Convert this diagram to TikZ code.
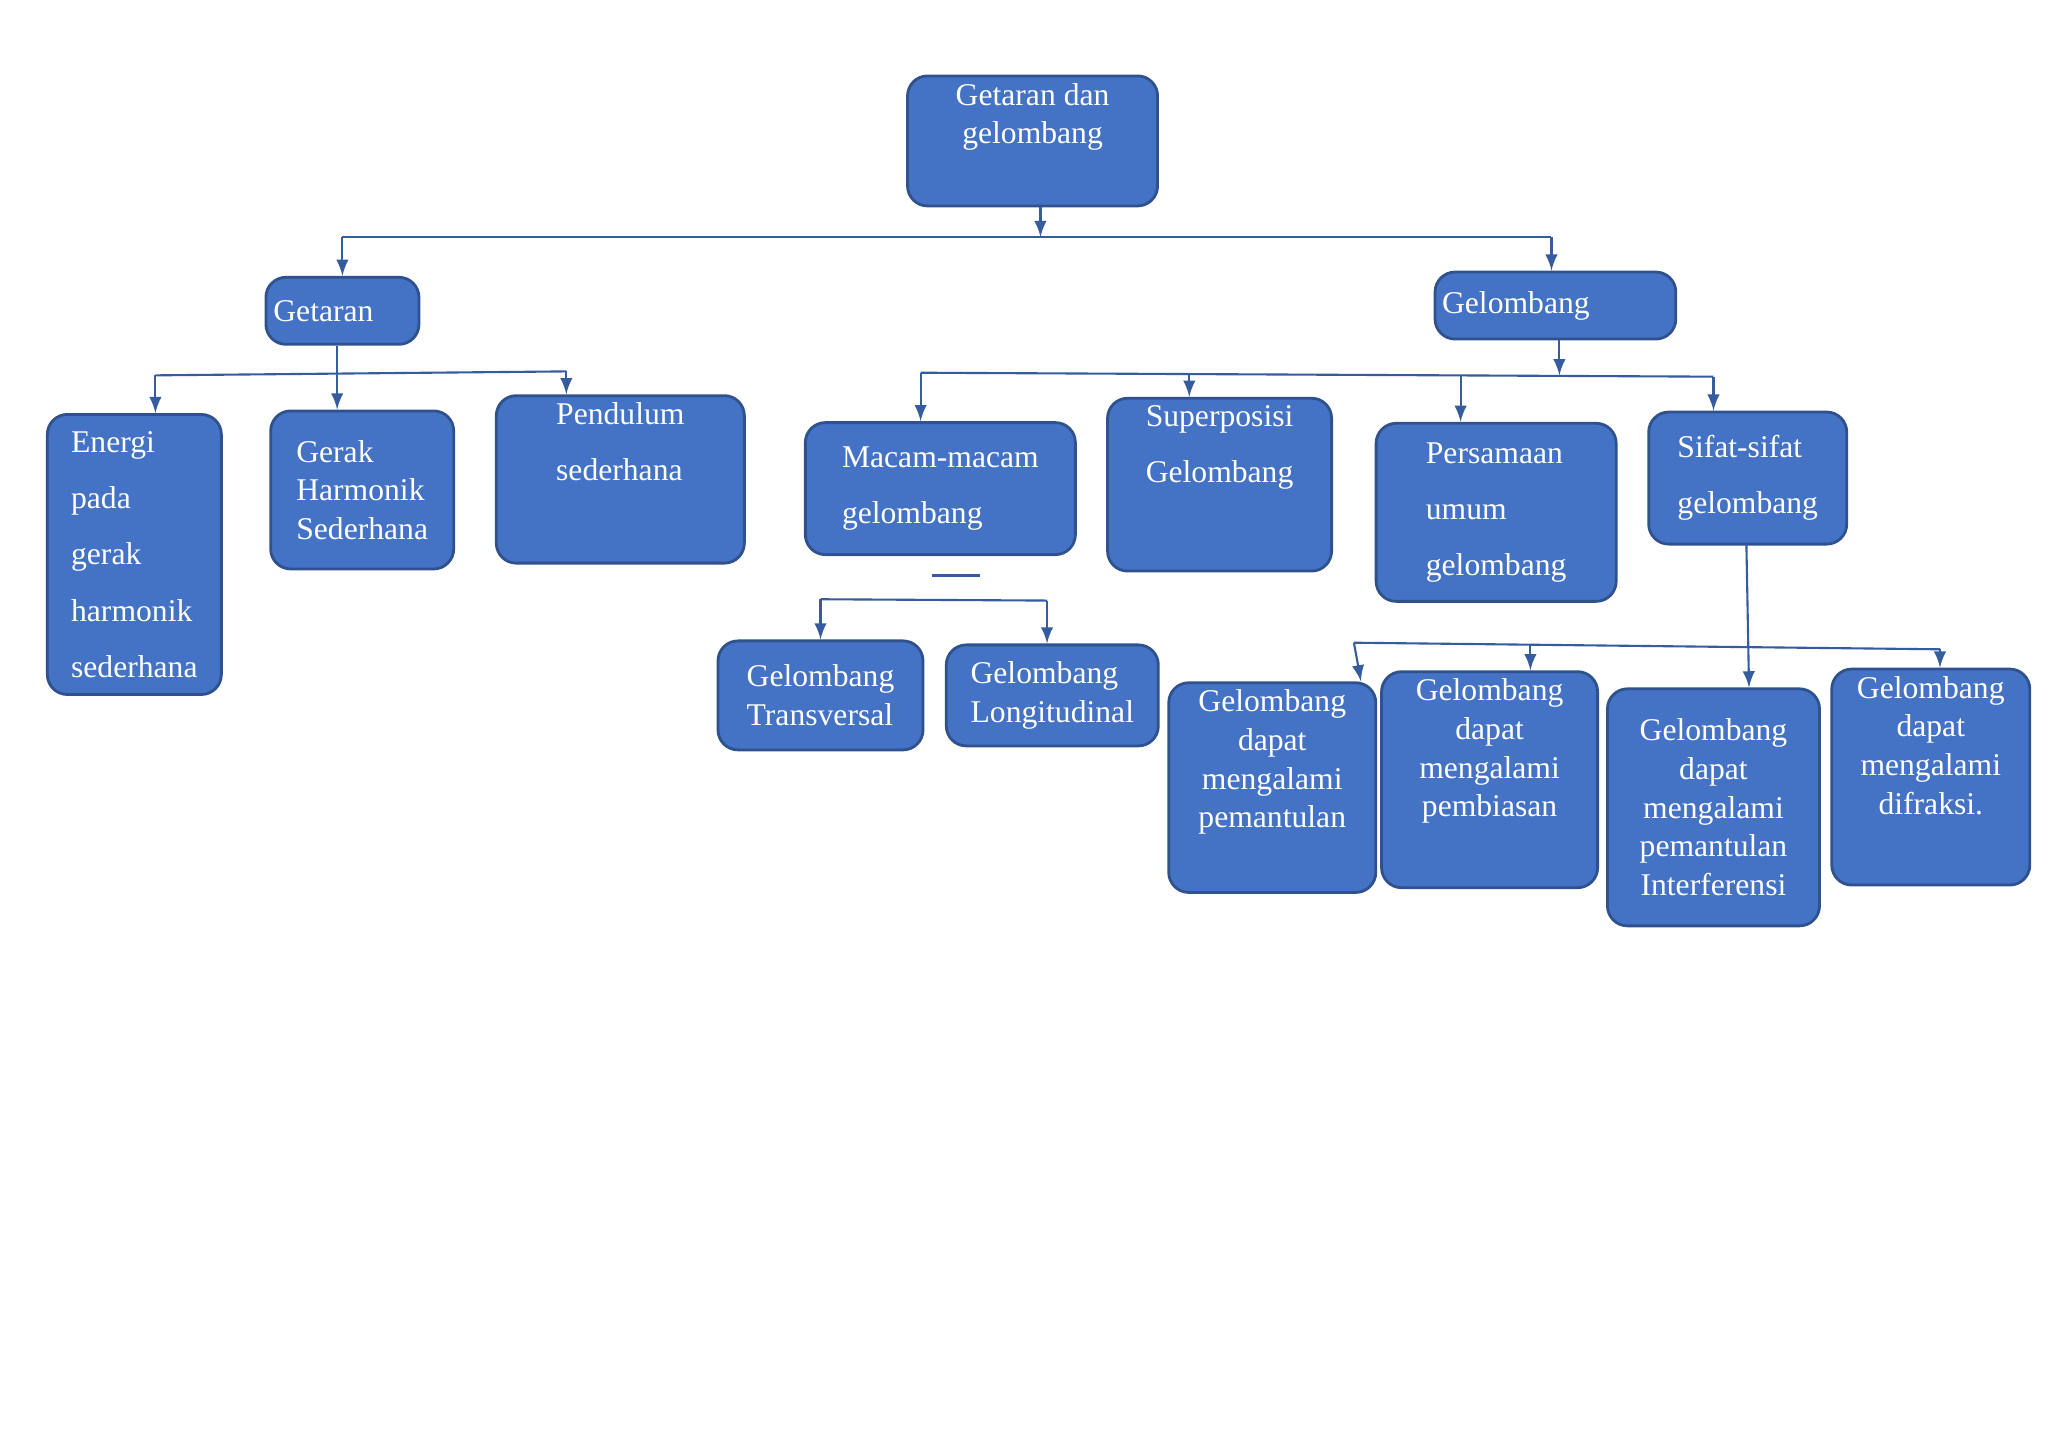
\documentclass[tikz,border=0pt]{standalone}
\usepackage{fontspec}
\setmainfont{Liberation Serif}
\definecolor{boxfill}{HTML}{4472C4}
\definecolor{boxline}{HTML}{2F528F}
\tikzset{
    box/.style={draw=boxline,fill=boxfill,thick,rounded corners=0.2cm,text=white,
        font=\fontsize{9}{11}\selectfont,inner sep=2pt},
    link/.style={draw=boxline!70!boxfill,semithick},
    arr/.style={link,-latex},
}
\begin{document}
\begin{tikzpicture}[x=0.01317cm,y=-0.01317cm]
    \useasboundingbox[fill=white] (0,0) rectangle (1555,1100);
    % kotak-kotak
    \node[box,minimum width=2.5cm,minimum height=1.3cm,align=center] (root) at (784,107) {Getaran dan\\gelombang\\[0.5em]};
    \node[box,minimum width=1.53cm,minimum height=0.67cm,align=left] (getaran) at (260,236) {Getaran\hspace{1.2em}};
    \node[box,minimum width=2.21cm,minimum height=0.67cm,align=left] (gelombang) at (1181,232) {Gelombang\hspace{2.5em}};
    \node[box,minimum width=1.74cm,minimum height=2.8cm,align=left,font=\fontsize{9}{16}\selectfont] (energi) at (102,421) {Energi\hspace{2em}\\pada\\gerak\\harmonik\\sederhana};
    \node[box,minimum width=1.83cm,minimum height=1.58cm,align=left] (gerak) at (275,372) {Gerak\\Harmonik\\Sederhana};
    \node[box,minimum width=2.48cm,minimum height=1.37cm,align=left,font=\fontsize{9}{16}\selectfont] (pendulum) at (471,364) {Pendulum\\sederhana\\[0.6em]};
    \node[box,minimum width=2.7cm,minimum height=1.32cm,align=left,font=\fontsize{9}{16}\selectfont] (macam) at (714,371) {Macam-macam\hspace{1.5em}\\gelombang};
    \node[box,minimum width=2.24cm,minimum height=1.42cm,align=left,font=\fontsize{9}{16}\selectfont] (superposisi) at (926,368) {Superposisi\hspace{1.5em}\\Gelombang\\[0.8em]};
    \node[box,minimum width=2.4cm,minimum height=1.78cm,align=left,font=\fontsize{9}{16}\selectfont] (persamaan) at (1136,389) {Persamaan\hspace{3em}\\umum\\gelombang};
    \node[box,minimum width=1.98cm,minimum height=1.32cm,align=left,font=\fontsize{9}{16}\selectfont] (sifat) at (1327,363) {Sifat-sifat\hspace{0.5em}\\gelombang};
    \node[box,minimum width=2.05cm,minimum height=1.09cm,align=left] (transversal) at (623,528) {Gelombang\\Transversal};
    \node[box,minimum width=2.12cm,minimum height=1.01cm,align=left] (longitudinal) at (799,528) {Gelombang\\Longitudinal};
    \node[box,minimum width=2.07cm,minimum height=2.08cm,align=center] (pemantulan) at (966,598) {Gelombang\\dapat\\mengalami\\pemantulan\\[0.6em]};
    \node[box,minimum width=2.16cm,minimum height=2.03cm,align=center] (pembiasan) at (1131,592) {Gelombang\\dapat\\mengalami\\pembiasan\\[0.8em]};
    \node[box,minimum width=2.12cm,minimum height=2.37cm,align=center] (interferensi) at (1301,613) {Gelombang\\dapat\\mengalami\\pemantulan\\Interferensi};
    \node[box,minimum width=1.98cm,minimum height=1.88cm,align=center] (difraksi) at (1466,590) {Gelombang\\dapat\\mengalami\\difraksi.\\[0.8em]};
    % titik bantu
    \coordinate (r0) at (790,157);
    \coordinate (r1) at (790,180);
    \coordinate (r2) at (260,180);
    \coordinate (r3) at (1178,180);
    \coordinate (g0) at (256,283);
    \coordinate (g1) at (118,285);
    \coordinate (g2) at (430,282);
    \coordinate (w0) at (1184,285);
    \coordinate (w1) at (699,283);
    \coordinate (w2) at (903,284);
    \coordinate (w3) at (1109,285);
    \coordinate (w4) at (1301,286);
    \coordinate (m1) at (708,437);
    \coordinate (m2) at (744,437);
    \coordinate (t1) at (623,455);
    \coordinate (t2) at (795,456);
    \coordinate (s0) at (1326,413);
    \coordinate (s1) at (1028,488);
    \coordinate (s2) at (1162,489);
    \coordinate (s3) at (1328,491);
    \coordinate (s4) at (1473,493);
    % penghubung
    \draw[arr] (r0) -- (r1);
    \draw[link] (r2) -- (r3);
    \draw[arr] (r2) -- (getaran.north -| r2);
    \draw[arr] (r3) -- (gelombang.north -| r3);
    \draw[arr] (getaran.south -| g0) -- (gerak.north -| g0);
    \draw[link] (g1) -- (g2);
    \draw[arr] (g1) -- (energi.north -| g1);
    \draw[arr] (g2) -- (pendulum.north -| g2);
    \draw[arr] (gelombang.south -| w0) -- (w0);
    \draw[link] (w1) -- (w4);
    \draw[arr] (w1) -- (macam.north -| w1);
    \draw[arr] (w2) -- (superposisi.north -| w2);
    \draw[arr] (w3) -- (persamaan.north -| w3);
    \draw[arr] (w4) -- (sifat.north -| w4);
    \draw[link] (m1) -- (m2);
    \draw[link] (t1) -- (t2);
    \draw[arr] (t1) -- (transversal.north -| t1);
    \draw[arr] (t2) -- (longitudinal.north -| t2);
    \draw[arr] (s0) -- (interferensi.north -| s3);
    \draw[link] (s1) -- (s4);
    \draw[arr] (s1) -- ([xshift=2]pemantulan.north -| s1);
    \draw[arr] (s2) -- (pembiasan.north -| s2);
    \draw[arr] (s4) -- (difraksi.north -| s4);
\end{tikzpicture}
\end{document}
